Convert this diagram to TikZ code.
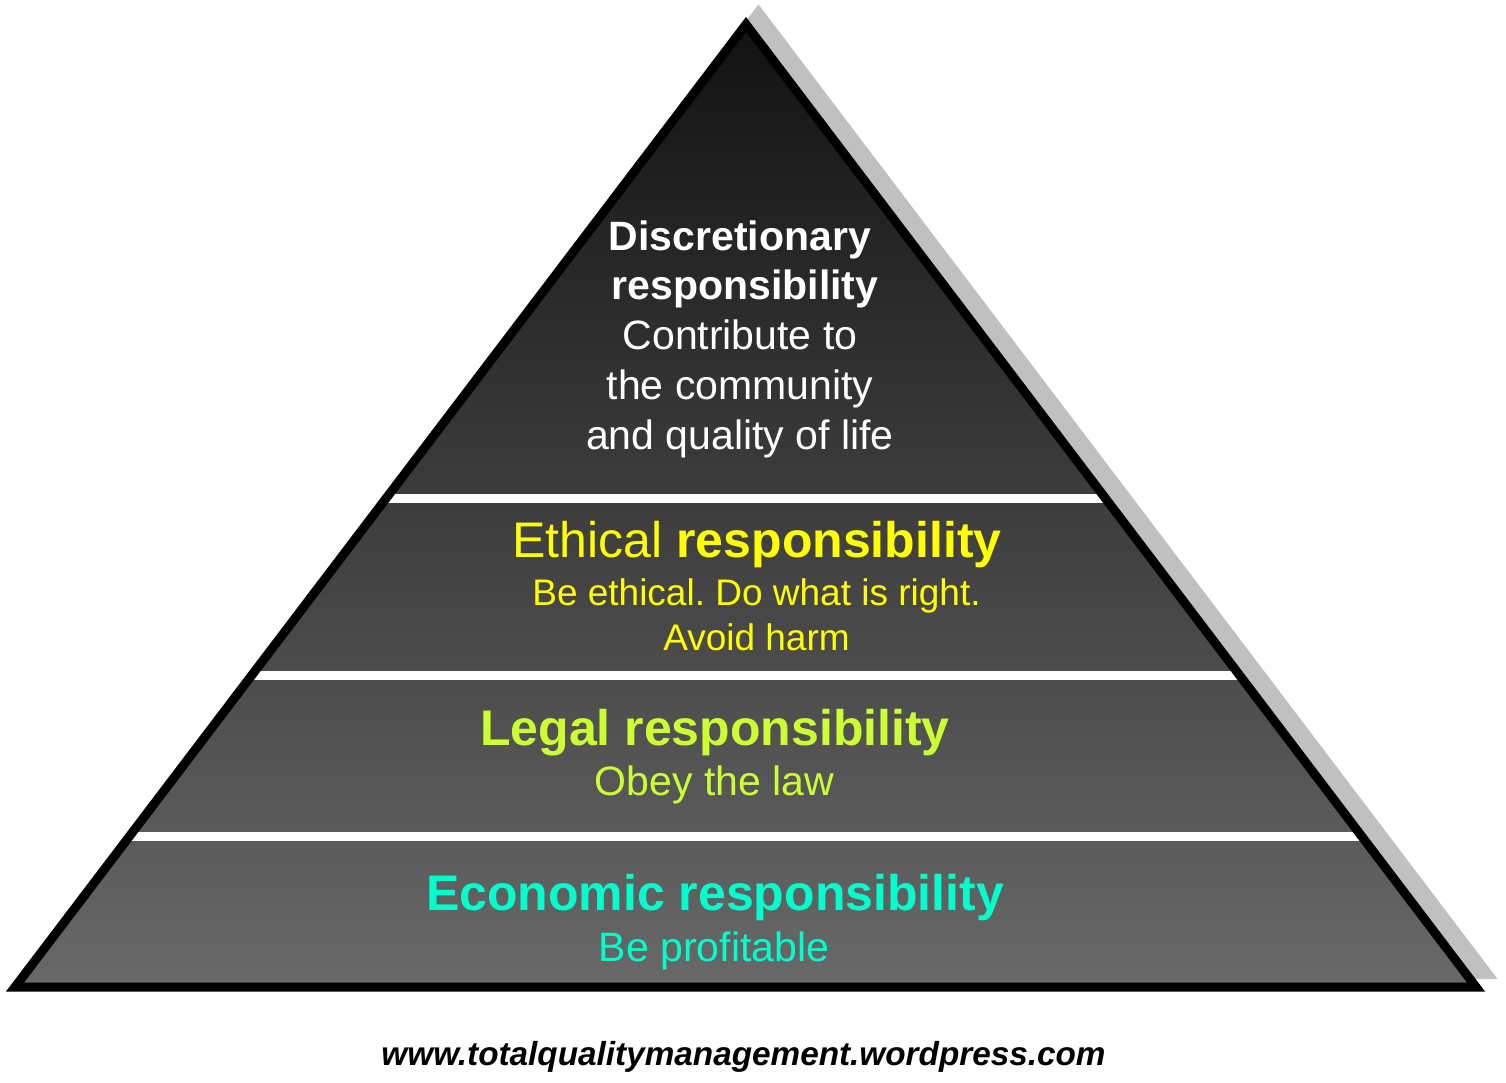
\documentclass[tikz,border=0pt]{standalone}
\usepackage{fontspec}
\setmainfont{Liberation Sans}
\usetikzlibrary{calc}
\definecolor{ethicalyellow}{HTML}{FFFF00}
\definecolor{legalgreen}{HTML}{CCFF33}
\definecolor{economiccyan}{HTML}{00FFCC}
\definecolor{shadowgray}{HTML}{C0C0C0}
\frenchspacing

\begin{document}
\begin{tikzpicture}[x=1pt, y=-1pt,
    head_text/.style={anchor=base, inner sep=0pt, font=\fontsize{50}{60}\selectfont},
    sub_text/.style={anchor=base, inner sep=0pt, font=\fontsize{41}{50}\selectfont},
    small_text/.style={anchor=base, inner sep=0pt, font=\fontsize{37}{44}\selectfont},
    tier_line/.style={draw=white, line width=9pt}
]
\useasboundingbox (0,0) rectangle (1506,1082);

% corners of the pyramid
\coordinate (apex) at (746,24.4);
\coordinate (bl) at (15,987);
\coordinate (br) at (1476,987);

% shadow and body
\fill[shadowgray, draw=shadowgray, line width=9pt]
    ($(apex)+(12.5,-12.5)$) -- ($(bl)+(12.5,-12.5)$) -- ($(br)+(12.5,-12.5)$) -- cycle;
\shade[top color=black!93, middle color=black!72, bottom color=black!59]
    (apex) -- (bl) -- (br) -- cycle;

% tier separators
\path[tier_line]
    ($(apex)!0.493!(bl)$) edge ($(apex)!0.493!(br)$)
    ($(apex)!0.676!(bl)$) edge ($(apex)!0.676!(br)$)
    ($(apex)!0.844!(bl)$) edge ($(apex)!0.844!(br)$);

% outline
\draw[line width=9pt, line join=miter] (apex) -- (bl) -- (br) -- cycle;

% top tier
\node[sub_text, white] (disc1) at (740,250) {\textbf{Discretionary}};
\node[sub_text, white] (disc2) at (745,299) {\textbf{responsibility}};
\node[sub_text, white] (disc3) at (740,349) {Contribute to};
\node[sub_text, white] (disc4) at (740,399) {the community};
\node[sub_text, white] (disc5) at (740,449) {and quality of life};

% ethical tier
\node[head_text, ethicalyellow] (eth1) at (757,557) {Ethical \textbf{responsibility}};
\node[small_text, ethicalyellow] (eth2) at (756.5,605) {Be ethical. Do what is right.};
\node[small_text, ethicalyellow] (eth3) at (756.5,650) {Avoid harm};

% legal tier
\node[head_text, legalgreen] (leg1) at (715,745) {\textbf{Legal responsibility}};
\node[sub_text, legalgreen] (leg2) at (714.5,795) {Obey the law};

% economic tier
\node[head_text, economiccyan] (eco1) at (715,910) {\textbf{Economic responsibility}};
\node[sub_text, economiccyan] (eco2) at (714,961) {Be profitable};

% footer
\node[anchor=base, inner sep=0pt, font=\fontsize{33.3}{40}\selectfont\bfseries\itshape] (web) at (743.5,1065)
    {www.totalqualitymanagement.wordpress.com};

\end{tikzpicture}
\end{document}
